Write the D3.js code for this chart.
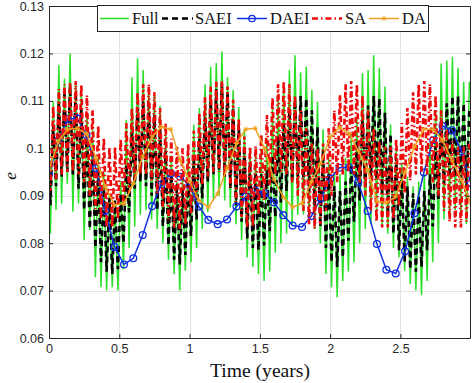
<!DOCTYPE html>
<html><head><meta charset="utf-8">
<script src="https://cdn.jsdelivr.net/npm/d3@7"></script>
<style>html,body{margin:0;padding:0;background:#fff}svg{display:block}</style>
</head><body><svg id="c" width="474" height="383"></svg>
<script>
// ---------- data ----------
const xTicks = [0, 0.5, 1, 1.5, 2, 2.5];
const xTickLabels = ["0", "0.5", "1", "1.5", "2", "2.5"];
const yTicks = [0.06, 0.07, 0.08, 0.09, 0.10, 0.11, 0.12, 0.13];
const yTickLabels = ["0.06", "0.07", "0.08", "0.09", "0.1", "0.11", "0.12", "0.13"];
const seriesNames = ["Full", "SAEI", "DAEI", "SA", "DA"];

// initial eccentricity (all models start here)
const e0 = 0.0945;
// fast (half-month) oscillation: minima at fastStart + k*fastPeriod, maxima half a period later
const fastStart = 0.01;
const fastPeriod = 0.04;

const fullLo = [.0820,.0870,.0883,.0925,.0866,.0883,.0806,.0827,.0728,.0707,.0700,.0707,.0700,.0745,.0790,.0835,.0860,.0870,.0850,.0830,.0800,.0765,.0735,.0700,.0742,.0760,.0790,.0830,.0865,.0890,.0900,.0890,.0875,.0840,.0806,.0770,.0750,.0735,.0720,.0740,.0780,.0800,.0820,.0840,.0860,.0860,.0850,.0830,.0800,.0735,.0707,.0686,.0720,.0740,.0760,.0800,.0830,.0840,.0860,.0834,.0820,.0790,.0770,.0742,.0714,.0700,.0690,.0720,.0760,.0800,.0850,.0860,.0870,.0860,.0840];
const fullHi = [.1098,.1175,.1147,.1200,.1137,.1126,.1073,.1040,.0985,.0950,.0905,.0890,.0930,.1060,.1150,.1190,.1165,.1125,.1110,.1090,.1030,.0985,.0930,.0945,.0990,.1050,.1085,.1135,.1172,.1180,.1204,.1150,.1123,.1087,.1040,.1000,.0990,.0996,.1020,.1087,.1110,.1137,.1165,.1196,.1160,.1172,.1123,.1098,.1040,.0980,.0950,.0946,.0980,.1030,.1066,.1158,.1165,.1196,.1170,.1130,.1050,.1000,.0970,.0940,.0920,.0930,.0946,.1010,.1080,.1179,.1185,.1193,.1170,.1140,.1140];

const saeiLo = [.0880,.0920,.0940,.0950,.0945,.0915,.0870,.0830,.0790,.0760,.0740,.0735,.0745,.0800,.0865,.0915,.0930,.0920,.0900,.0870,.0835,.0795,.0765,.0755,.0775,.0815,.0850,.0895,.0930,.0945,.0955,.0940,.0915,.0880,.0845,.0810,.0790,.0785,.0795,.0825,.0855,.0885,.0910,.0930,.0940,.0935,.0910,.0875,.0835,.0790,.0760,.0750,.0770,.0805,.0845,.0890,.0920,.0940,.0935,.0905,.0860,.0820,.0785,.0760,.0745,.0740,.0750,.0785,.0835,.0890,.0925,.0940,.0940,.0925,.0910];
const saeiHi = [.1050,.1095,.1115,.1130,.1120,.1085,.1040,.1000,.0950,.0915,.0895,.0890,.0905,.0965,.1035,.1085,.1100,.1090,.1070,.1040,.0995,.0955,.0925,.0915,.0935,.0975,.1020,.1065,.1100,.1125,.1135,.1120,.1085,.1050,.1005,.0970,.0950,.0945,.0955,.0985,.1025,.1055,.1080,.1100,.1110,.1105,.1080,.1045,.0995,.0950,.0920,.0910,.0930,.0965,.1015,.1060,.1090,.1110,.1105,.1075,.1030,.0980,.0945,.0920,.0905,.0900,.0910,.0945,.1005,.1060,.1095,.1110,.1110,.1095,.1080];

const saLo = [.0910,.0935,.0945,.0950,.0950,.0945,.0928,.0900,.0872,.0850,.0833,.0833,.0850,.0877,.0905,.0932,.0945,.0945,.0932,.0905,.0877,.0850,.0833,.0830,.0840,.0863,.0895,.0922,.0940,.0950,.0950,.0940,.0918,.0887,.0855,.0833,.0835,.0860,.0890,.0922,.0945,.0950,.0945,.0928,.0900,.0868,.0840,.0830,.0840,.0868,.0900,.0928,.0945,.0950,.0945,.0928,.0900,.0868,.0845,.0833,.0833,.0850,.0877,.0905,.0932,.0945,.0950,.0945,.0928,.0900,.0868,.0845,.0833,.0833,.0845];
const saHi = [.1090,.1125,.1135,.1140,.1142,.1135,.1112,.1080,.1048,.1022,.1003,.1003,.1020,.1053,.1085,.1118,.1135,.1135,.1118,.1085,.1053,.1020,.1003,.1000,.1010,.1037,.1075,.1108,.1130,.1140,.1142,.1130,.1102,.1063,.1025,.1003,.1005,.1030,.1070,.1108,.1135,.1142,.1135,.1112,.1080,.1042,.1010,.1000,.1010,.1042,.1080,.1112,.1135,.1142,.1135,.1112,.1080,.1042,.1015,.1003,.1003,.1020,.1053,.1085,.1118,.1135,.1142,.1135,.1112,.1080,.1042,.1015,.1003,.1003,.1015];

// averaged models, sampled every 1/15 year
const avgStep = 1 / 15;
const daei = [.0945,.1017,.1062,.1063,.1028,.0958,.0868,.0792,.0755,.0768,.0817,.0878,.0924,.0947,.0940,.0922,.0877,.0849,.0840,.0850,.0877,.0898,.0911,.0905,.0886,.0859,.0837,.0834,.0857,.0894,.0936,.0959,.0960,.0929,.0868,.0798,.0744,.0736,.0783,.0863,.0949,.1017,.1047,.1038,.0993,.0927];
const da = [.0955,.1015,.1040,.1042,.1031,.0980,.0919,.0880,.0884,.0926,.0982,.1024,.1045,.1040,.0975,.0930,.0890,.0876,.0905,.0958,.1010,.1040,.1042,.1000,.0935,.0897,.0876,.0884,.0930,.0968,.1024,.1044,.1031,.0995,.0955,.0888,.0885,.0898,.0950,.1003,.1040,.1040,.1017,.0975,.0933,.0885];

// ---------- chart ----------
const L = 49, R = 470, T = 6, B = 338;
const x = d3.scaleLinear().domain([0, 2.995]).range([L, R]);
const y = d3.scaleLinear().domain([0.06, 0.13]).range([B, T]);

const col = {full: "#2bdf2b", saei: "#000000", daei: "#1030e0", sa: "#ee0a0a", da: "#efa322"};
const axisCol = "#262626";

const svg = d3.select("#c");
svg.append("defs").append("clipPath").attr("id", "clip")
  .append("rect").attr("x", L).attr("y", T).attr("width", R - L).attr("height", B - T);

// grid
const grid = svg.append("g").attr("stroke", "#e3e3e3").attr("stroke-width", 1);
grid.selectAll(".gx").data(xTicks).join("line")
  .attr("x1", d => Math.round(x(d)) + 0.5).attr("x2", d => Math.round(x(d)) + 0.5)
  .attr("y1", T).attr("y2", B);
grid.selectAll(".gy").data(yTicks).join("line")
  .attr("y1", d => Math.round(y(d)) + 0.5).attr("y2", d => Math.round(y(d)) + 0.5)
  .attr("x1", L).attr("x2", R);

function zig(lo, hi) {
  const pts = [[0, e0]];
  lo.forEach((v, m) => {
    pts.push([fastStart + m * fastPeriod, v]);
    pts.push([fastStart + (m + 0.5) * fastPeriod, hi[m]]);
  });
  return pts;
}
const avg = arr => arr.map((v, k) => [k * avgStep, v]);

const line = d3.line().x(d => x(d[0])).y(d => y(d[1]));
const plot = svg.append("g").attr("clip-path", "url(#clip)");

plot.append("path").attr("d", line(zig(fullLo, fullHi)))
  .attr("fill", "none").attr("stroke", col.full).attr("stroke-width", 1.5).attr("stroke-linejoin", "miter");
plot.append("path").attr("d", line(zig(saeiLo, saeiHi)))
  .attr("fill", "none").attr("stroke", col.saei).attr("stroke-width", 2.6).attr("stroke-dasharray", "6,4");

const daeiPts = avg(daei);
plot.append("path").attr("d", line(daeiPts))
  .attr("fill", "none").attr("stroke", col.daei).attr("stroke-width", 1.5);
plot.selectAll(".dm").data(daeiPts).join("circle")
  .attr("cx", d => x(d[0])).attr("cy", d => y(d[1])).attr("r", 3.4)
  .attr("fill", "none").attr("stroke", col.daei).attr("stroke-width", 1.3);

plot.append("path").attr("d", line(zig(saLo, saHi)))
  .attr("fill", "none").attr("stroke", col.sa).attr("stroke-width", 2.6).attr("stroke-dasharray", "6,3,1.5,3");

const daPts = avg(da);
plot.append("path").attr("d", line(daPts))
  .attr("fill", "none").attr("stroke", col.da).attr("stroke-width", 1.5);
function star(g, cx, cy, s, c) {
  g.append("path").attr("d",
    `M${cx - s},${cy}L${cx + s},${cy}M${cx},${cy - s}L${cx},${cy + s}` +
    `M${cx - s * .7},${cy - s * .7}L${cx + s * .7},${cy + s * .7}M${cx - s * .7},${cy + s * .7}L${cx + s * .7},${cy - s * .7}`)
    .attr("stroke", c).attr("stroke-width", 1).attr("fill", "none");
}
daPts.forEach(d => star(plot, x(d[0]), y(d[1]), 2.6, col.da));

// axes
const fontSans = "'Liberation Sans', Arial, Helvetica, sans-serif";
const ax = svg.append("g").attr("font-family", fontSans);
const xAxis = d3.axisBottom(x).tickValues(xTicks).tickFormat((d, i) => xTickLabels[i])
  .tickSizeInner(-4).tickSizeOuter(0).tickPadding(6);
const yAxis = d3.axisLeft(y).tickValues(yTicks).tickFormat((d, i) => yTickLabels[i])
  .tickSizeInner(-4).tickSizeOuter(0).tickPadding(5);
const gx = ax.append("g").attr("transform", `translate(0,${B})`).call(xAxis);
const gy = ax.append("g").attr("transform", `translate(${L},0)`).call(yAxis);
const gx2 = ax.append("g").attr("transform", `translate(0,${T})`).call(d3.axisTop(x).tickValues(xTicks).tickFormat("").tickSizeInner(-4).tickSizeOuter(0));
const gy2 = ax.append("g").attr("transform", `translate(${R},0)`).call(d3.axisRight(y).tickValues(yTicks).tickFormat("").tickSizeInner(-4).tickSizeOuter(0));
[gx, gy, gx2, gy2].forEach(g => {
  g.selectAll("path,line").attr("stroke", axisCol).attr("stroke-width", 1);
  g.selectAll("text").attr("fill", axisCol).attr("font-size", 12.5).attr("font-family", fontSans);
});

// axis labels
const fontSerif = "'Liberation Serif', 'Times New Roman', serif";
svg.append("text").attr("x", 260).attr("y", 377).attr("text-anchor", "middle")
  .attr("font-family", fontSerif).attr("font-size", 18).attr("fill", "#111")
  .attr("textLength", 100).attr("lengthAdjust", "spacingAndGlyphs").text("Time (years)");
svg.append("text").attr("transform", "translate(15.5,176) rotate(-90)").attr("text-anchor", "middle")
  .attr("font-family", fontSerif).attr("font-style", "italic").attr("font-size", 17).attr("fill", "#111").text("e");

// legend
const lg = svg.append("g");
lg.append("rect").attr("x", 97.5).attr("y", 5.5).attr("width", 331).attr("height", 26)
  .attr("fill", "#fff").attr("stroke", "#222").attr("stroke-width", 1);
const ly = 18.5;
const items = [
  {name: seriesNames[0], x1: 100, x2: 129, tx: 132, c: col.full, w: 1.5, dash: null, mk: null},
  {name: seriesNames[1], x1: 162, x2: 193, tx: 195, c: col.saei, w: 2.6, dash: "6,4", mk: null},
  {name: seriesNames[2], x1: 237, x2: 267, tx: 270, c: col.daei, w: 1.5, dash: null, mk: "o"},
  {name: seriesNames[3], x1: 312, x2: 342, tx: 345, c: col.sa, w: 2.6, dash: "6,3,1.5,3", mk: null},
  {name: seriesNames[4], x1: 369, x2: 399, tx: 402, c: col.da, w: 1.5, dash: null, mk: "*"}
];
items.forEach(it => {
  lg.append("line").attr("x1", it.x1).attr("x2", it.x2).attr("y1", ly).attr("y2", ly)
    .attr("stroke", it.c).attr("stroke-width", it.w).attr("stroke-dasharray", it.dash);
  const mx = (it.x1 + it.x2) / 2;
  if (it.mk === "o") lg.append("circle").attr("cx", mx).attr("cy", ly).attr("r", 3.2)
    .attr("fill", "none").attr("stroke", it.c).attr("stroke-width", 1.3);
  if (it.mk === "*") star(lg, mx, ly, 2.6, it.c);
  lg.append("text").attr("x", it.tx).attr("y", ly + 5.5).attr("font-family", fontSerif)
    .attr("font-size", 16.5).attr("fill", "#111").text(it.name);
});
</script>
</body></html>
